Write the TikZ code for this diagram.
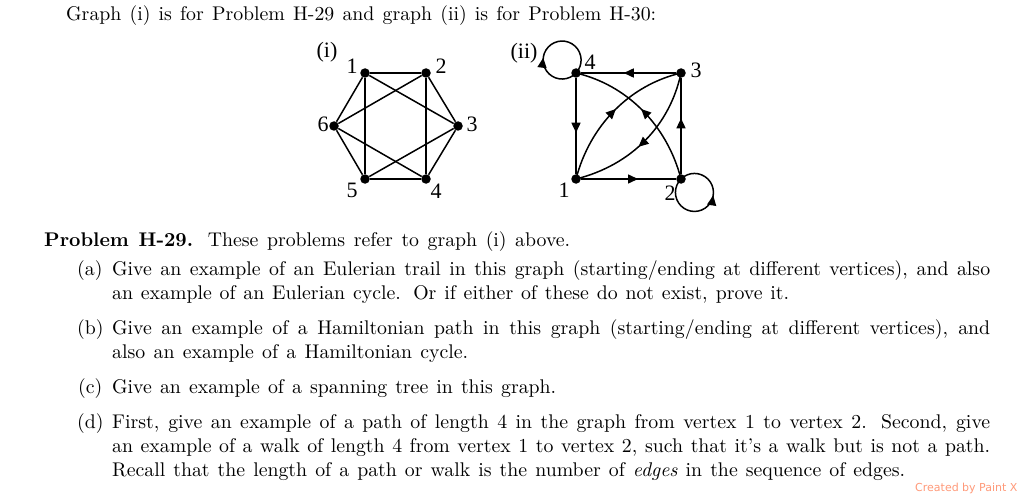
\documentclass[tikz,border=0pt]{standalone}
\usepackage{fontspec}
\newfontfamily\lblfont{Liberation Serif}
\newfontfamily\wmfont{DejaVu Sans}
\usetikzlibrary{arrows.meta,decorations.markings}
\definecolor{wm}{HTML}{FF9A7A}
\newcommand{\txtscale}{1.98}
\tikzset{
  vertex/.style={circle,fill=black,inner sep=0pt,minimum size=9.5pt},
  edge/.style={line width=1.5pt,black},
  midarrow/.style={decoration={markings,mark=at position #1 with {\arrow{Triangle[length=10pt,width=9pt]}}},postaction={decorate}},
  lbl/.style={font=\lblfont\fontsize{22}{22}\selectfont,inner sep=0pt,text=black},
  tline/.style={anchor=base west,inner sep=0pt,font=\fontsize{10}{12}\selectfont,text=black},
  watermark/.style={anchor=base west,inner sep=0pt,font=\wmfont\fontsize{11}{12}\selectfont,text=wm}
}
\newcommand{\jl}[4]{\node[tline] (#1) at (#2) {\scalebox{\txtscale}{\hbox to \dimexpr #3pt*100/198\relax{#4}}};}
\newcommand{\shl}[3]{\node[tline] (#1) at (#2) {\scalebox{\txtscale}{#3}};}
\begin{document}
\begin{tikzpicture}[x=1pt,y=-1pt]
\useasboundingbox (0,0) rectangle (1024,497);
\fill[white] (0,0) rectangle (1024,497);
% Text
\jl{t0}{66,21}{590}{Graph (i) is for Problem H-29 and graph (ii) is for Problem H-30:}
\jl{t1}{44,246}{526}{\textbf{Problem H-29.} These problems refer to graph (i) above.}
\shl{la}{77,275}{(a)}
\jl{t2}{112,275}{878}{Give an example of an Eulerian trail in this graph (starting/ending at different vertices), and also}
\jl{t3}{112,299}{677}{an example of an Eulerian cycle. Or if either of these do not exist, prove it.}
\shl{lb}{77,334}{(b)}
\jl{t4}{112,334}{878}{Give an example of a Hamiltonian path in this graph (starting/ending at different vertices), and}
\jl{t5}{112,358}{356}{also an example of a Hamiltonian cycle.}
\shl{lc}{78,393}{(c)}
\jl{t6}{112,393}{444}{Give an example of a spanning tree in this graph.}
\shl{ld}{77,428}{(d)}
\jl{t7}{112,428}{878}{First, give an example of a path of length 4 in the graph from vertex 1 to vertex 2. Second, give}
\jl{t8}{112,452}{878}{an example of a walk of length 4 from vertex 1 to vertex 2, such that it’s a walk but is not a path.}
\jl{t9}{112,476}{793}{Recall that the length of a path or walk is the number of \textit{edges} in the sequence of edges.}
\node[watermark] (wm) at (915,491) {Created by Paint X};
% Graph (i)
\node[vertex] (a1) at (365,73) {};
\node[vertex] (a2) at (426,73) {};
\node[vertex] (a3) at (458,126) {};
\node[vertex] (a4) at (426,179) {};
\node[vertex] (a5) at (365,179) {};
\node[vertex] (a6) at (334,126) {};
\foreach \p/\q in {a1/a2,a2/a3,a3/a4,a4/a5,a5/a6,a6/a1,a1/a5,a2/a4,a1/a3,a2/a6,a3/a5,a4/a6}
  \draw[edge] (\p) -- (\q);
\node[lbl] (ti) at (327,52) {(i)};
\node[lbl] at (352,66) {1};
\node[lbl] at (441,66) {2};
\node[lbl] at (472,124) {3};
\node[lbl] at (436,191) {4};
\node[lbl] at (352,190) {5};
\node[lbl] at (323,124) {6};
% Graph (ii)
\node[vertex] (b1) at (576,179) {};
\node[vertex] (b2) at (681,179) {};
\node[vertex] (b3) at (681,73) {};
\node[vertex] (b4) at (576,73) {};
\draw[edge,midarrow=0.55] (b3) -- (b4);
\draw[edge,midarrow=0.57] (b4) -- (b1);
\draw[edge,midarrow=0.60] (b1) -- (b2);
\draw[edge,midarrow=0.58] (b2) -- (b3);
\draw[edge,midarrow=0.52] (b1.center) .. controls (590,125) and (630,85) .. (b3.center);
\draw[edge,midarrow=0.55] (b3.center) .. controls (670,125) and (632,165) .. (b1.center);
\draw[edge,midarrow=0.52] (b2.center) .. controls (667,125) and (627,85) .. (b4.center);
\draw[edge,midarrow=0.40] (b4.center) arc[start angle=43,delta angle=360,radius=19];
\draw[edge,midarrow=0.60] (b2.center) arc[start angle=225,delta angle=-360,radius=19];
\node[lbl] (tii) at (524,53) {(ii)};
\node[lbl] at (590,62) {4};
\node[lbl] at (696,70) {3};
\node[lbl] at (564,190) {1};
\node[lbl] at (670,193) {2};
\end{tikzpicture}
\end{document}
